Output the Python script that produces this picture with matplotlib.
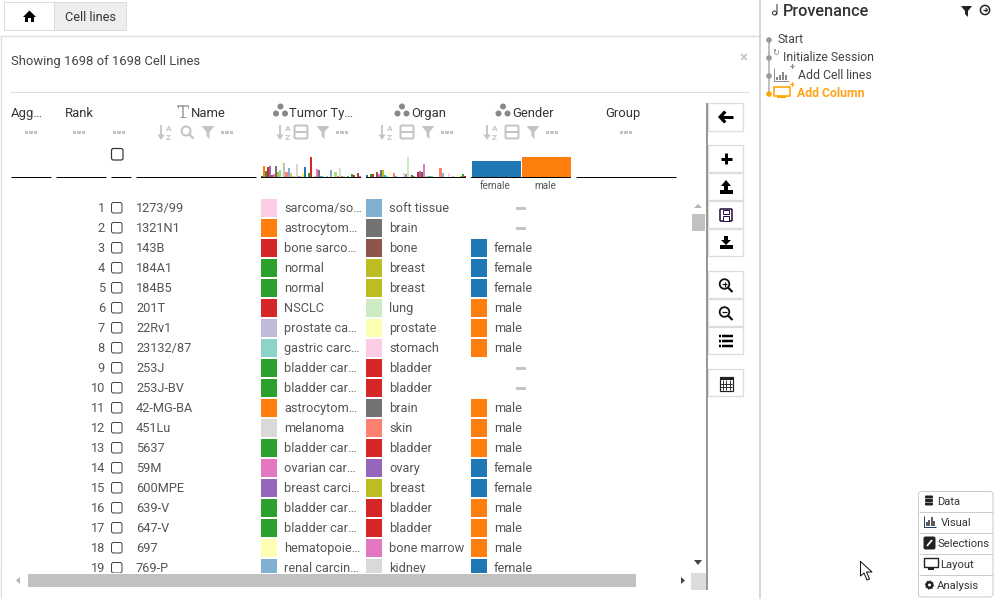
import matplotlib
matplotlib.use("Agg")
import matplotlib.pyplot as plt
from matplotlib.patches import Rectangle, FancyBboxPatch, Polygon, Circle

plt.rcParams['font.family'] = ['Roboto', 'DejaVu Sans']

W, H = 996, 599
DPI = 100
PX = 72 / DPI

# ---------- data ----------
ranks = list(range(1, 20))
names = ["1273/99", "1321N1", "143B", "184A1", "184B5", "201T", "22Rv1", "23132/87", "253J", "253J-BV",
         "42-MG-BA", "451Lu", "5637", "59M", "600MPE", "639-V", "647-V", "697", "769-P"]
tumor_types = ["sarcoma/so…", "astrocytom…", "bone sarco…", "normal", "normal", "NSCLC", "prostate ca…",
               "gastric carc…", "bladder car…", "bladder car…", "astrocytom…", "melanoma", "bladder car…",
               "ovarian car…", "breast carci…", "bladder car…", "bladder car…", "hematopoie…", "renal carcin…"]
tumor_colors = ["#fccde5", "#ff7f0e", "#d62728", "#2ca02c", "#2ca02c", "#d62728", "#bebada", "#8dd3c7",
                "#2ca02c", "#2ca02c", "#ff7f0e", "#d9d9d9", "#2ca02c", "#e377c2", "#9467bd", "#2ca02c",
                "#2ca02c", "#ffffb3", "#80b1d3"]
organs = ["soft tissue", "brain", "bone", "breast", "breast", "lung", "prostate", "stomach", "bladder",
          "bladder", "brain", "skin", "bladder", "ovary", "breast", "bladder", "bladder", "bone marrow", "kidney"]
organ_colors = ["#80b1d3", "#737373", "#8c564b", "#bcbd22", "#bcbd22", "#ccebc5", "#ffffb3", "#fccde5",
                "#d62728", "#d62728", "#737373", "#fb8072", "#d62728", "#9467bd", "#bcbd22", "#d62728",
                "#d62728", "#e377c2", "#d9d9d9"]
genders = [None, None, "female", "female", "female", "male", "male", "male", None, None, "male", "male",
           "male", "female", "female", "male", "male", "male", "female"]
gender_palette = {"female": "#1f77b4", "male": "#ff7f0e"}

tumor_hist = [.5, 10.5, 5.5, 9.5, 10.5, 2, 3, 10.5, 5, 7, 16, 14, 4.5, 9, 4, .5, .5, 12.5, .5, .5,
              3.5, 10, 0, 4, 20, 0, 1, 8, 7, .5, .5, 0, 1, 0, 6.5, 0, 5, 1, 9, .5, 1, 0, .5, 0,
              2.5, 1.5, 0, 3.5, .5]
tumor_hist_colors = ["#1f77b4", "#ff7f0e", "#2ca02c", "#d62728", "#9467bd", "#8c564b", "#e377c2", "#737373",
                     "#bcbd22", "#8dd3c7", "#ffffb3", "#bebada", "#fb8072", "#80b1d3", "#fdb462", "#b3de69",
                     "#fccde5", "#d9d9d9", "#bc80bd", "#ccebc5", "#ffed6f", "#1f77b4", "#ff7f0e", "#2ca02c",
                     "#d62728", "#9467bd", "#bebada", "#e377c2", "#737373", "#17becf", "#8dd3c7", "#ffffb3",
                     "#bebada", "#fb8072", "#80b1d3", "#fdb462", "#b3de69", "#fb8072", "#d9d9d9", "#bc80bd",
                     "#ffed6f", "#1f77b4", "#17becf", "#ff7f0e", "#2ca02c", "#d62728", "#9467bd", "#8c564b",
                     "#e377c2"]
organ_hist = [1.5, 0, 2.5, 2.5, 0, 5, 3, 6.5, 6.5, 2, 1, 6, 0, 3.5, 1, 0, 0, 0, 4, 2.5,
              20, 4, 1.5, 1, 0, 4.5, 5.5, 4.5, 13, 1, .5, .5, .5, 1, 0, 0, 8.5, 4, 0, 0,
              4, 0, 1, 0, 3, 0, 1, 3, 1]
organ_hist_colors = ["#1f77b4", "#ff7f0e", "#2ca02c", "#d62728", "#9467bd", "#8c564b", "#e377c2", "#737373",
                     "#bcbd22", "#17becf", "#8dd3c7", "#ffffb3", "#bebada", "#fb8072", "#80b1d3", "#fdb462",
                     "#b3de69", "#fccde5", "#d9d9d9", "#bc80bd", "#ccebc5", "#ffffb3", "#1f77b4", "#ff7f0e",
                     "#2ca02c", "#d62728", "#9467bd", "#8c564b", "#e377c2", "#d9d9d9", "#bcbd22", "#17becf",
                     "#8dd3c7", "#ffffb3", "#bebada", "#fb8072", "#fb8072", "#80b1d3", "#fdb462", "#b3de69",
                     "#fccde5", "#d9d9d9", "#bebada", "#ccebc5", "#ffffb3", "#1f77b4", "#ff7f0e", "#2ca02c",
                     "#d62728"]
gender_labels = ["female", "male"]
gender_hist = [16, 20]

provenance_items = ["Start", "Initialize Session", "Add Cell lines", "Add Column"]
side_menu = ["Data", "Visual", "Selections", "Layout", "Analysis"]

# ---------- canvas in pixel coordinates ----------
fig = plt.figure(figsize=(W / DPI, H / DPI), dpi=DPI, facecolor="white")
ax = fig.add_axes([0, 0, 1, 1])
ax.set_xlim(0, W)
ax.set_ylim(H, 0)
ax.axis("off")


def T(x, y, s, size=12.7, color="#555555", ha="left", weight="normal", **kw):
    # y is the visual centre of digits and capitals
    return ax.text(x, y + size * 0.36, s, fontsize=size * PX, color=color, ha=ha, va="baseline",
                   fontweight=weight, **kw)


def R(x0, y0, x1, y1, fc="none", ec="none", lw=0, z=2):
    ax.add_patch(Rectangle((x0, y0), x1 - x0, y1 - y0, fc=fc, ec=ec, lw=lw * PX, zorder=z))


def L(xs, ys, c="#000000", lw=1.0, z=3, **kw):
    ax.plot(xs, ys, color=c, lw=lw * PX, zorder=z, solid_capstyle="butt", **kw)


def RB(x0, y0, x1, y1, ec="#333333", lw=1.0, r=2, fc="white", z=3):
    ax.add_patch(FancyBboxPatch((x0 + r, y0 + r), x1 - x0 - 2 * r, y1 - y0 - 2 * r,
                                boxstyle=f"round,pad={r},rounding_size={r}", fc=fc, ec=ec, lw=lw * PX, zorder=z))


def POLY(pts, c="#000000", z=4):
    ax.add_patch(Polygon(pts, closed=True, fc=c, ec="none", zorder=z))


# ---------- chrome ----------
L([0, 760], [36.2, 36.2], "#dddddd", 1.4)
L([1, 1], [36, 599], "#dddddd", 1.4)
L([760, 760], [0, 599], "#cccccc", 1.5)
L([10, 749], [92.2, 92.2], "#dddddd", 1)
R(4.2, 2.2, 54.2, 30.2, fc="white", ec="#dddddd", lw=1)
R(54.2, 2.2, 126.2, 30.2, fc="#eeeeee", ec="#dddddd", lw=1)
# home icon
POLY([(23, 17), (29.5, 10.5), (36, 17), (34, 17), (34, 22), (31, 22), (31, 18), (28, 18), (28, 22), (25, 22), (25, 17)], "#000000")
T(65, 16.5, "Cell lines", 12.7, "#333333")
T(11, 60.5, "Showing 1698 of 1698 Cell Lines", 13, "#444444")
T(744, 56, "×", 15, "#c4c4c4", ha="center", weight="bold")

# ---------- column headers ----------
header_color = "#333333"
icon_grey = "#c4c4c4"
T(11, 112, "Agg…", 13, header_color)
T(79, 112, "Rank", 13, header_color, ha="center")
T(191, 112, "Name", 13, header_color)
T(289, 112, "Tumor Ty…", 13, header_color)
T(411, 112, "Organ", 13, header_color)
T(512, 112, "Gender", 13, header_color)
T(623, 112, "Group", 13, header_color, ha="center")
# T icon
L([177, 188], [105.5, 105.5], "#999999", 1.5)
L([177.5, 177.5], [105, 108], "#999999", 1)
L([187.5, 187.5], [105, 108], "#999999", 1)
L([182.5, 182.5], [105, 117], "#999999", 1.5)
L([179.5, 185.5], [117.2, 117.2], "#999999", 1)


def cat_icon(cx, cy):
    for dx, dy in [(0, -4), (-4.5, 3), (4.5, 3)]:
        ax.add_patch(Circle((cx + dx, cy + dy), 3, fc="#888888", ec="none", zorder=4))


cat_icon(280.5, 110.5)
cat_icon(402, 110.5)
cat_icon(503, 110.5)


def dots(cx, cy=132):
    for d in (-4.5, 0, 4.5):
        R(cx + d - 1.8, cy - 1.5, cx + d + 1.8, cy + 1.5, fc="#c4c4c4", z=3)


def sort_icon(cx, cy=132):
    L([cx - 4, cx - 4], [125, 137], icon_grey, 1.8)
    POLY([(cx - 7.5, 134.5), (cx - 0.5, 134.5), (cx - 4, 140)], icon_grey)
    ax.text(cx + 3.5, 128.5, "A", fontsize=8.5 * PX, color=icon_grey, ha="center", va="center", fontweight="bold")
    ax.text(cx + 3.5, 137, "Z", fontsize=8.5 * PX, color=icon_grey, ha="center", va="center", fontweight="bold")


def box_icon(cx, cy=132):
    RB(cx - 6.5, cy - 6.5, cx + 6.5, cy + 6.5, ec=icon_grey, lw=2, r=1.5)
    L([cx - 6, cx + 6], [cy, cy], icon_grey, 2)


def filter_icon(cx, cy=132):
    POLY([(cx - 6.5, cy - 6), (cx + 6.5, cy - 6), (cx + 1.5, cy), (cx + 1.5, cy + 7), (cx - 1.5, cy + 4), (cx - 1.5, cy)], icon_grey)


def search_icon(cx, cy=132):
    ax.add_patch(Circle((cx - 1, cy - 1), 4.5, fc="none", ec=icon_grey, lw=2 * PX, zorder=4))
    L([cx + 2, cx + 6.5], [cy + 2, cy + 6.5], icon_grey, 2.4)


for x in (31, 79, 119, 227, 342, 447, 552, 626):
    dots(x)
sort_icon(165)
search_icon(187)
filter_icon(208)
for sx, bx, fx in ((284, 301, 323), (386, 407, 428), (491, 512, 533)):
    sort_icon(sx)
    box_icon(bx)
    filter_icon(fx)

RB(111.5, 148.5, 123, 160, ec="#333333", lw=1.2, r=2)

# summary baselines
for x0, x1 in ((11, 51), (56, 106), (111, 131), (136, 256), (576, 676)):
    L([x0, x1], [177.2, 177.2], "#000000", 1)


# ---------- summary histograms, on their own axes ----------
def hist_axes(x0, x1, ymax, y_bottom=178):
    a = fig.add_axes([x0 / W, 1 - y_bottom / H, (x1 - x0) / W, (ymax + 1) / H])
    a.set_ylim(-1, ymax)
    a.axis("off")
    return a


for x0, vals, cols in ((261, tumor_hist, tumor_hist_colors), (366, organ_hist, organ_hist_colors)):
    a = hist_axes(x0, x0 + 100, 21)
    a.set_xlim(-0.5, len(vals) - 0.5)
    a.axhline(-0.5, color="#000000", lw=1 * PX, zorder=1)
    a.bar(range(len(vals)), vals, width=1.0, color=cols, linewidth=0, zorder=2)

a = hist_axes(471, 571, 21)
a.set_xlim(-0.5, 1.5)
a.axhline(-0.5, color="#000000", lw=1 * PX, zorder=1)
a.bar(range(2), gender_hist, width=0.98, color=[gender_palette[g] for g in gender_labels], linewidth=0, zorder=2)
for i, lab in enumerate(gender_labels):
    T(495.5 + 50 * i, 185, lab, 10, "#555555", ha="center")

# ---------- rows ----------
for i, rk in enumerate(ranks):
    y = 207.5 + 20 * i
    T(105, y, str(rk), 12.7, "#555555", ha="right")
    RB(111.5, y - 5, 122, y + 5.5, ec="#444444", lw=1, r=2)
    T(136, y, names[i])
    R(261, y - 8.5, 277, y + 9.5, fc=tumor_colors[i])
    T(284, y, tumor_types[i])
    R(366, y - 8.5, 382, y + 9.5, fc=organ_colors[i])
    T(389, y, organs[i])
    if genders[i] is None:
        R(516, y - 0.5, 526, y + 2, fc="#c4c4c4")
    else:
        R(471, y - 8.5, 487, y + 9.5, fc=gender_palette[genders[i]])
        T(494, y, genders[i])

# ---------- scroll area ----------
R(2, 573, 706, 599, fc="white", z=6)
R(28, 574, 636, 587, fc="#c1c1c1", z=7)
POLY([(20, 577), (20, 584), (16, 580.5)], "#b5b5b5", z=7)
POLY([(681, 577), (681, 584), (685, 580.5)], "#444444", z=7)
R(691, 573, 706, 590, fc="#dcdcdc", z=7)
R(692, 214, 705, 231, fc="#c1c1c1")
POLY([(694, 208), (702, 208), (698, 204)], "#b5b5b5")
POLY([(694, 560), (702, 560), (698, 565)], "#444444")
L([706.5, 706.5], [103, 590], "#777777", 1.5, z=8)

# ---------- toolbar ----------
button_rows = [(103, 131), (145, 172), (173, 200), (201, 228), (229, 256), (271, 298), (299, 326), (327, 354), (369, 396)]
for y0, y1 in button_rows:
    R(708.2, y0 + .2, 743.2, y1 + .2, fc="white", ec="#dddddd", lw=1.3)
cx = 726
# back
L([720, 733], [117, 117], "#000000", 3)
POLY([(718, 117), (724, 110.5), (726.5, 112.5), (722.5, 117), (726.5, 121.5), (724, 123.5)], "#000000")
# plus
L([cx - 5.5, cx + 5.5], [158.5, 158.5], "#000000", 3)
L([cx, cx], [153, 164], "#000000", 3)
# upload
POLY([(cx, 180), (cx + 5, 186), (cx + 2, 186), (cx + 2, 190), (cx - 2, 190), (cx - 2, 186), (cx - 5, 186)], "#000000")
R(cx - 6.5, 190, cx + 6.5, 194, fc="#000000", z=4)
# save
RB(cx - 6, 209, cx + 6, 221, ec="#2a1040", lw=1.6, r=1)
R(cx - 3, 209.5, cx + 2.5, 213.5, fc="white", ec="#2a1040", lw=1, z=4)
R(cx - 3, 216, cx + 3, 221, fc="white", ec="#2a1040", lw=1, z=4)
# download
POLY([(cx, 245), (cx + 5, 240), (cx + 2, 240), (cx + 2, 236), (cx - 2, 236), (cx - 2, 240), (cx - 5, 240)], "#000000")
R(cx - 6.5, 245, cx + 6.5, 249, fc="#000000", z=4)
# zoom in/out
for yc, plus in ((285, True), (313, False)):
    ax.add_patch(Circle((cx - 1.5, yc - 1), 4.8, fc="none", ec="#111111", lw=1.8 * PX, zorder=4))
    L([cx + 2, cx + 6.5], [yc + 2.5, yc + 7], "#111111", 2.2)
    L([cx - 4, cx + 1], [yc - 1, yc - 1], "#111111", 1.2)
    if plus:
        L([cx - 1.5, cx - 1.5], [yc - 3.5, yc + 1.5], "#111111", 1.2)
# list
for yy in (335.5, 340.5, 345.5):
    L([cx - 7, cx - 5], [yy, yy], "#000000", 2.5)
    L([cx - 4, cx + 7], [yy, yy], "#000000", 2.5)
# calculator
R(cx - 6.5, 376.5, cx + 6.5, 390.5, fc="white", ec="#222222", lw=1.2, z=4)
R(cx - 6.5, 376.5, cx + 6.5, 380, fc="#222222", z=4)
for xx in (cx - 3, cx + 0.3, cx + 3.5):
    L([xx, xx], [380, 390], "#222222", 0.9, z=5)
for yy in (383.5, 387):
    L([cx - 6, cx + 6], [yy, yy], "#222222", 0.9, z=5)

# ---------- provenance ----------
T(783, 10, "Provenance", 16.2, "#333333", weight="medium")
ax.add_patch(Circle((774.5, 13), 2, fc="none", ec="#333333", lw=1 * PX, zorder=4))
L([777, 777, 775], [4, 14, 15], "#333333", 1)
POLY([(961, 6), (972, 6), (968, 11), (968, 17), (965, 14), (965, 11)], "#222222")
ax.add_patch(Circle((985, 10), 4.6, fc="none", ec="#222222", lw=1.5 * PX, zorder=4))
L([982.5, 987], [10, 10], "#222222", 1.3)
L([985.5, 987.5, 985.5], [8, 10, 12], "#222222", 1)

L([769, 769], [40, 94], "#aaaaaa", 1.5)
dot_ys = [40, 58, 76, 94]
text_xs = [777, 783, 798, 797]
for k, item in enumerate(provenance_items):
    last = k == len(provenance_items) - 1
    col = "#ffa500" if last else "#999999"
    ax.add_patch(Circle((769, dot_ys[k]), 2.8, fc=col, ec="none", zorder=5))
    T(text_xs[k], dot_ys[k] - 1, item, 12.2, "#ffa31a" if last else "#444444", weight="bold" if last else "normal")
# small provenance icons
ax.text(776, 52.5, "↻", fontsize=8 * PX, color="#777777", ha="center", va="center", family="DejaVu Sans")
L([773.5, 773.5, 789], [68, 81, 81], "#777777", 0.8)
for xx, top in ((776.5, 77), (780, 75), (783, 72), (786, 75)):
    L([xx, xx], [top, 80], "#888888", 2)
T(792.5, 67, "+", 9, "#888888", ha="center", weight="bold")
# monitor
R(773.5, 86.5, 789.5, 95.5, fc="white", ec="#ffa500", lw=1.6, z=4)
R(777, 96, 786, 98, fc="#ffa500", z=4)
T(792, 85, "+", 9, "#ffa500", ha="center", weight="bold")

# ---------- side menu ----------
RB(918.5, 491.5, 993, 597, ec="#cccccc", lw=1, r=3)
for yy in (512, 533, 554, 575):
    L([919, 993], [yy, yy], "#cccccc", 1)
menu_y = [501, 522, 543, 564, 585]
menu_x = [937, 941, 937, 940, 937]
for s, x, y in zip(side_menu, menu_x, menu_y):
    T(x, y, s, 11.2, "#333333")
# database
for yy in (497, 500.5, 504):
    ax.add_patch(FancyBboxPatch((925.5, yy - 1), 7, 2, boxstyle="round,pad=0.5,rounding_size=1", fc="#222222", ec="none", zorder=4))
# bar chart
L([924, 924, 936], [516, 526.5, 526.5], "#1f3f6f", 1)
for xx, top in ((926.5, 522), (929, 520), (931.5, 517), (934, 521)):
    L([xx, xx], [top, 526], "#333333", 1.6)
# pencil square
RB(924, 537, 935, 549, ec="#222222", lw=1, r=1.5, fc="#222222")
L([927, 932], [546, 540], "white", 1.8, z=5)
# monitor
R(924, 558, 938, 567, fc="white", ec="#222222", lw=1.4, z=4)
R(928, 567.5, 934, 569.5, fc="#222222", z=4)
# cog
ax.add_patch(Circle((929.5, 585), 4, fc="#222222", ec="#222222", lw=1.2 * PX, ls=":", zorder=4))
ax.add_patch(Circle((929.5, 585), 1.5, fc="white", ec="none", zorder=5))

# cursor
POLY([(860.5, 561.5), (860.5, 576), (864, 573), (867, 580), (869.5, 579), (866.5, 572), (872, 572)], "white", z=9)
ax.plot([860.5, 860.5, 864, 867, 869.5, 866.5, 872, 860.5], [561.5, 576, 573, 580, 579, 572, 572, 561.5],
        color="#111111", lw=1 * PX, zorder=10)

fig.savefig("out.png", dpi=DPI)
